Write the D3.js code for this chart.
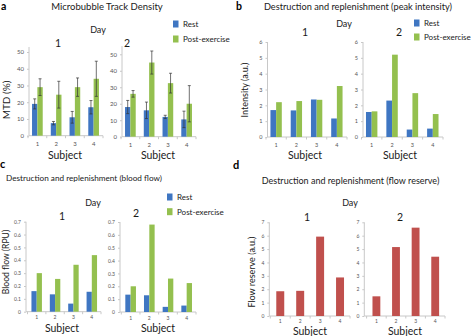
<!DOCTYPE html>
<html>
<head>
<meta charset="utf-8">
<script src="https://cdn.jsdelivr.net/npm/d3@7"></script>
<style>
  body { margin: 0; background: #fff; }
  svg { display: block; font-family: Lato, "Open Sans", sans-serif; }
</style>
</head>
<body>
<svg id="chart" width="474" height="336"></svg>
<script>
// subjects on the x axis
var subjects = ["1", "2", "3", "4"];
var seriesNames = ["Rest", "Post-exercise"];

// (a) microbubble track density, MTD %
var mtdRestD1 = [19, 7.5, 11, 17];
var mtdRestErrD1 = [3, 1, 3.5, 4];
var mtdPostD1 = [29, 24.5, 29, 34];
var mtdPostErrD1 = [5, 8, 5.5, 10.5];
var mtdRestD2 = [18, 16, 12, 10.5];
var mtdRestErrD2 = [4, 5, 1, 5];
var mtdPostD2 = [26, 45, 32.5, 20];
var mtdPostErrD2 = [2, 7, 6, 11];
var mtdTicks = [0, 10, 20, 30, 40, 50];

// (b) peak intensity, a.u.
var peakRestD1 = [1.7, 1.68, 2.37, 1.17];
var peakPostD1 = [2.2, 2.27, 2.35, 3.22];
var peakRestD2 = [1.58, 2.3, 0.47, 0.53];
var peakPostD2 = [1.62, 5.2, 2.77, 1.45];
var peakTicks = [0, 1, 2, 3, 4, 5, 6];

// (c) blood flow, RPU
var flowRestD1 = [0.16, 0.135, 0.063, 0.155];
var flowPostD1 = [0.3, 0.255, 0.365, 0.44];
var flowRestD2 = [0.135, 0.13, 0.04, 0.05];
var flowPostD2 = [0.2, 0.68, 0.26, 0.225];
var flowTicks = [0, 0.1, 0.2, 0.3, 0.4, 0.5, 0.6, 0.7];

// (d) flow reserve, a.u.
var reserveD1 = [1.85, 1.88, 5.93, 2.88];
var reserveD2 = [1.47, 5.15, 6.6, 4.43];
var reserveTicks = [0, 1, 2, 3, 4, 5, 6, 7];

var cRest = "#3f76c2";
var cPost = "#94c04f";
var cRed = "#c0504d";
var axisCol = "#c8c8c8";
var tickTxt = "#555";

var svg = d3.select("#chart");

function txt(x, y, s, size, opts) {
  opts = opts || {};
  var t = svg.append("text")
    .attr("x", x).attr("y", y)
    .attr("font-size", size)
    .attr("text-anchor", opts.anchor || "middle")
    .attr("fill", opts.fill || "#1a1a1a")
    .text(s);
  if (opts.bold) t.attr("font-weight", "bold");
  if (opts.rotate) t.attr("transform", "rotate(-90," + x + "," + y + ")");
  return t;
}

// one small bar chart (one day)
function drawSub(o) {
  var g = svg.append("g");
  var y = d3.scaleLinear().domain([0, o.max]).range([o.y0, o.y1]);
  var x0 = d3.scaleBand().domain(subjects).range([o.xa, o.xb])
    .paddingInner(o.pad).paddingOuter(o.pad / 2);
  var x1 = d3.scaleBand().domain(d3.range(o.series.length))
    .range([0, x0.bandwidth()]);

  // y axis line + ticks
  var yAxis = d3.axisLeft(y).tickValues(o.ticks).tickSize(2).tickPadding(3)
    .tickFormat(o.fmt || d3.format("d"));
  var ya = g.append("g").attr("transform", "translate(" + o.ax + ",0)").call(yAxis);
  ya.select(".domain").attr("stroke", axisCol).attr("d", "M0," + o.y0 + "V" + y(o.top));
  ya.selectAll(".tick line").attr("stroke", axisCol);
  ya.selectAll(".tick text").attr("fill", tickTxt).attr("font-size", o.tickSize)
    .attr("font-family", "Lato, sans-serif");

  // x axis line, ticks between categories
  var xa = g.append("g").attr("transform", "translate(0," + o.y0 + ")")
    .call(d3.axisBottom(x0).tickSize(0).tickPadding(o.xPad || 6));
  xa.select(".domain").attr("stroke", axisCol).attr("d", "M" + o.ax + ",0H" + o.xb);
  xa.selectAll(".tick text").attr("fill", tickTxt).attr("font-size", o.tickSize)
    .attr("font-family", "Lato, sans-serif");
  g.selectAll(".sep").data(d3.range(subjects.length + 1)).enter().append("line")
    .attr("x1", function(i) { return o.xa + i * x0.step(); })
    .attr("x2", function(i) { return o.xa + i * x0.step(); })
    .attr("y1", o.y0).attr("y2", o.y0 + 2.5)
    .attr("stroke", axisCol);

  o.series.forEach(function(s, si) {
    g.selectAll(".bar" + si).data(s.values).enter().append("rect")
      .attr("x", function(d, i) { return x0(subjects[i]) + x1(si); })
      .attr("y", function(d) { return y(d); })
      .attr("width", x1.bandwidth())
      .attr("height", function(d) { return o.y0 - y(d); })
      .attr("fill", s.color);
    if (s.err) {
      s.values.forEach(function(d, i) {
        var cx = x0(subjects[i]) + x1(si) + x1.bandwidth() / 2;
        var lo = y(d - s.err[i]), hi = y(d + s.err[i]);
        g.append("line").attr("x1", cx).attr("x2", cx).attr("y1", lo).attr("y2", hi)
          .attr("stroke", "#333").attr("stroke-width", 0.7);
        [lo, hi].forEach(function(yy) {
          g.append("line").attr("x1", cx - 1.5).attr("x2", cx + 1.5)
            .attr("y1", yy).attr("y2", yy)
            .attr("stroke", "#333").attr("stroke-width", 0.7);
        });
      });
    }
  });
}

function legend(x, y1, y2, size) {
  [[y1, cRest, seriesNames[0]], [y2, cPost, seriesNames[1]]].forEach(function(l) {
    svg.append("rect").attr("x", x).attr("y", l[0] - 3.5).attr("width", 5.5).attr("height", 7)
      .attr("fill", l[1]);
    txt(x + 10, l[0] + 3, l[2], size, { anchor: "start" });
  });
}

// ---------- panel a ----------
txt(1, 10, "a", 10.5, { anchor: "start", bold: true, fill: "#000" });
txt(107, 10, "Microbubble Track Density", 9.5);
txt(98, 33, "Day", 9);
txt(58, 47, "1", 10.5);
txt(127, 47, "2", 10.5);
legend(173, 24, 39, 8);
txt(10, 100, "MTD (%)", 10, { rotate: true });
drawSub({ xa: 28, xb: 103, ax: 29, y0: 135.7, y1: 52, max: 50, top: 53, pad: 0.43,
  ticks: mtdTicks, tickSize: 6,
  series: [{ values: mtdRestD1, err: mtdRestErrD1, color: cRest },
           { values: mtdPostD1, err: mtdPostErrD1, color: cPost }] });
drawSub({ xa: 121, xb: 196, ax: 122, y0: 136.7, y1: 54.3, max: 50, top: 55, pad: 0.43,
  ticks: mtdTicks, tickSize: 6,
  series: [{ values: mtdRestD2, err: mtdRestErrD2, color: cRest },
           { values: mtdPostD2, err: mtdPostErrD2, color: cPost }] });
txt(65, 159, "Subject", 10.5);
txt(158, 159, "Subject", 10.5);

// ---------- panel b ----------
txt(236, 10, "b", 10.5, { anchor: "start", bold: true, fill: "#000" });
txt(358, 9.5, "Destruction and replenishment (peak intensity)", 9.2);
txt(344, 27, "Day", 9);
txt(305, 36, "1", 10.5);
txt(399, 36, "2", 10.5);
legend(414, 23, 37, 8);
txt(248, 90, "Intensity (a.u.)", 9, { rotate: true });
drawSub({ xa: 266, xb: 347, ax: 267.5, y0: 137, y1: 42, max: 6, top: 6, pad: 0.44,
  ticks: peakTicks, tickSize: 5.5,
  series: [{ values: peakRestD1, color: cRest }, { values: peakPostD1, color: cPost }] });
drawSub({ xa: 361.5, xb: 443, ax: 363, y0: 137, y1: 42, max: 6, top: 6, pad: 0.44,
  ticks: peakTicks, tickSize: 5.5,
  series: [{ values: peakRestD2, color: cRest }, { values: peakPostD2, color: cPost }] });
txt(305, 159, "Subject", 10.5);
txt(400, 159, "Subject", 10.5);

// ---------- panel c ----------
txt(0, 168, "c", 11, { anchor: "start", bold: true, fill: "#000" });
txt(84, 181, "Destruction and replenishment (blood flow)", 8.2);
txt(93, 206, "Day", 9);
txt(62, 219.5, "1", 10.5);
txt(136, 217, "2", 10.5);
legend(167, 197, 211.7, 8);
txt(9, 262, "Blood flow (RPU)", 8.6, { rotate: true });
drawSub({ xa: 27.5, xb: 101, ax: 26, y0: 311.7, y1: 221.7, max: 0.7, top: 0.7, pad: 0.43,
  ticks: flowTicks, tickSize: 5, xPad: 4, fmt: function(d) { return d === 0 ? "0" : d3.format(".1f")(d); },
  series: [{ values: flowRestD1, color: cRest }, { values: flowPostD1, color: cPost }] });
drawSub({ xa: 121.3, xb: 196, ax: 120, y0: 312, y1: 222, max: 0.7, top: 0.7, pad: 0.43,
  ticks: flowTicks, tickSize: 5, xPad: 4, fmt: function(d) { return d === 0 ? "0" : d3.format(".1f")(d); },
  series: [{ values: flowRestD2, color: cRest }, { values: flowPostD2, color: cPost }] });
txt(62, 331.5, "Subject", 10.5);
txt(158, 331.5, "Subject", 10.5);

// ---------- panel d ----------
txt(233, 169, "d", 11, { anchor: "start", bold: true, fill: "#000" });
txt(350.5, 184, "Destruction and replenishment (flow reserve)", 9);
txt(350, 205.5, "Day", 9);
txt(307, 221, "1", 10.5);
txt(400, 221, "2", 10.5);
txt(255, 272, "Flow reserve (a.u.)", 9, { rotate: true });
drawSub({ xa: 270.3, xb: 350, ax: 269.3, y0: 316, y1: 222.3, max: 7, top: 7, pad: 0.6,
  ticks: reserveTicks, tickSize: 5, xPad: 3,
  series: [{ values: reserveD1, color: cRed }] });
drawSub({ xa: 366.6, xb: 445, ax: 364.3, y0: 316, y1: 222.3, max: 7, top: 7, pad: 0.6,
  ticks: reserveTicks, tickSize: 5, xPad: 3,
  series: [{ values: reserveD2, color: cRed }] });
txt(310, 334.5, "Subject", 10.5);
txt(405, 334.5, "Subject", 10.5);
</script>
</body>
</html>
